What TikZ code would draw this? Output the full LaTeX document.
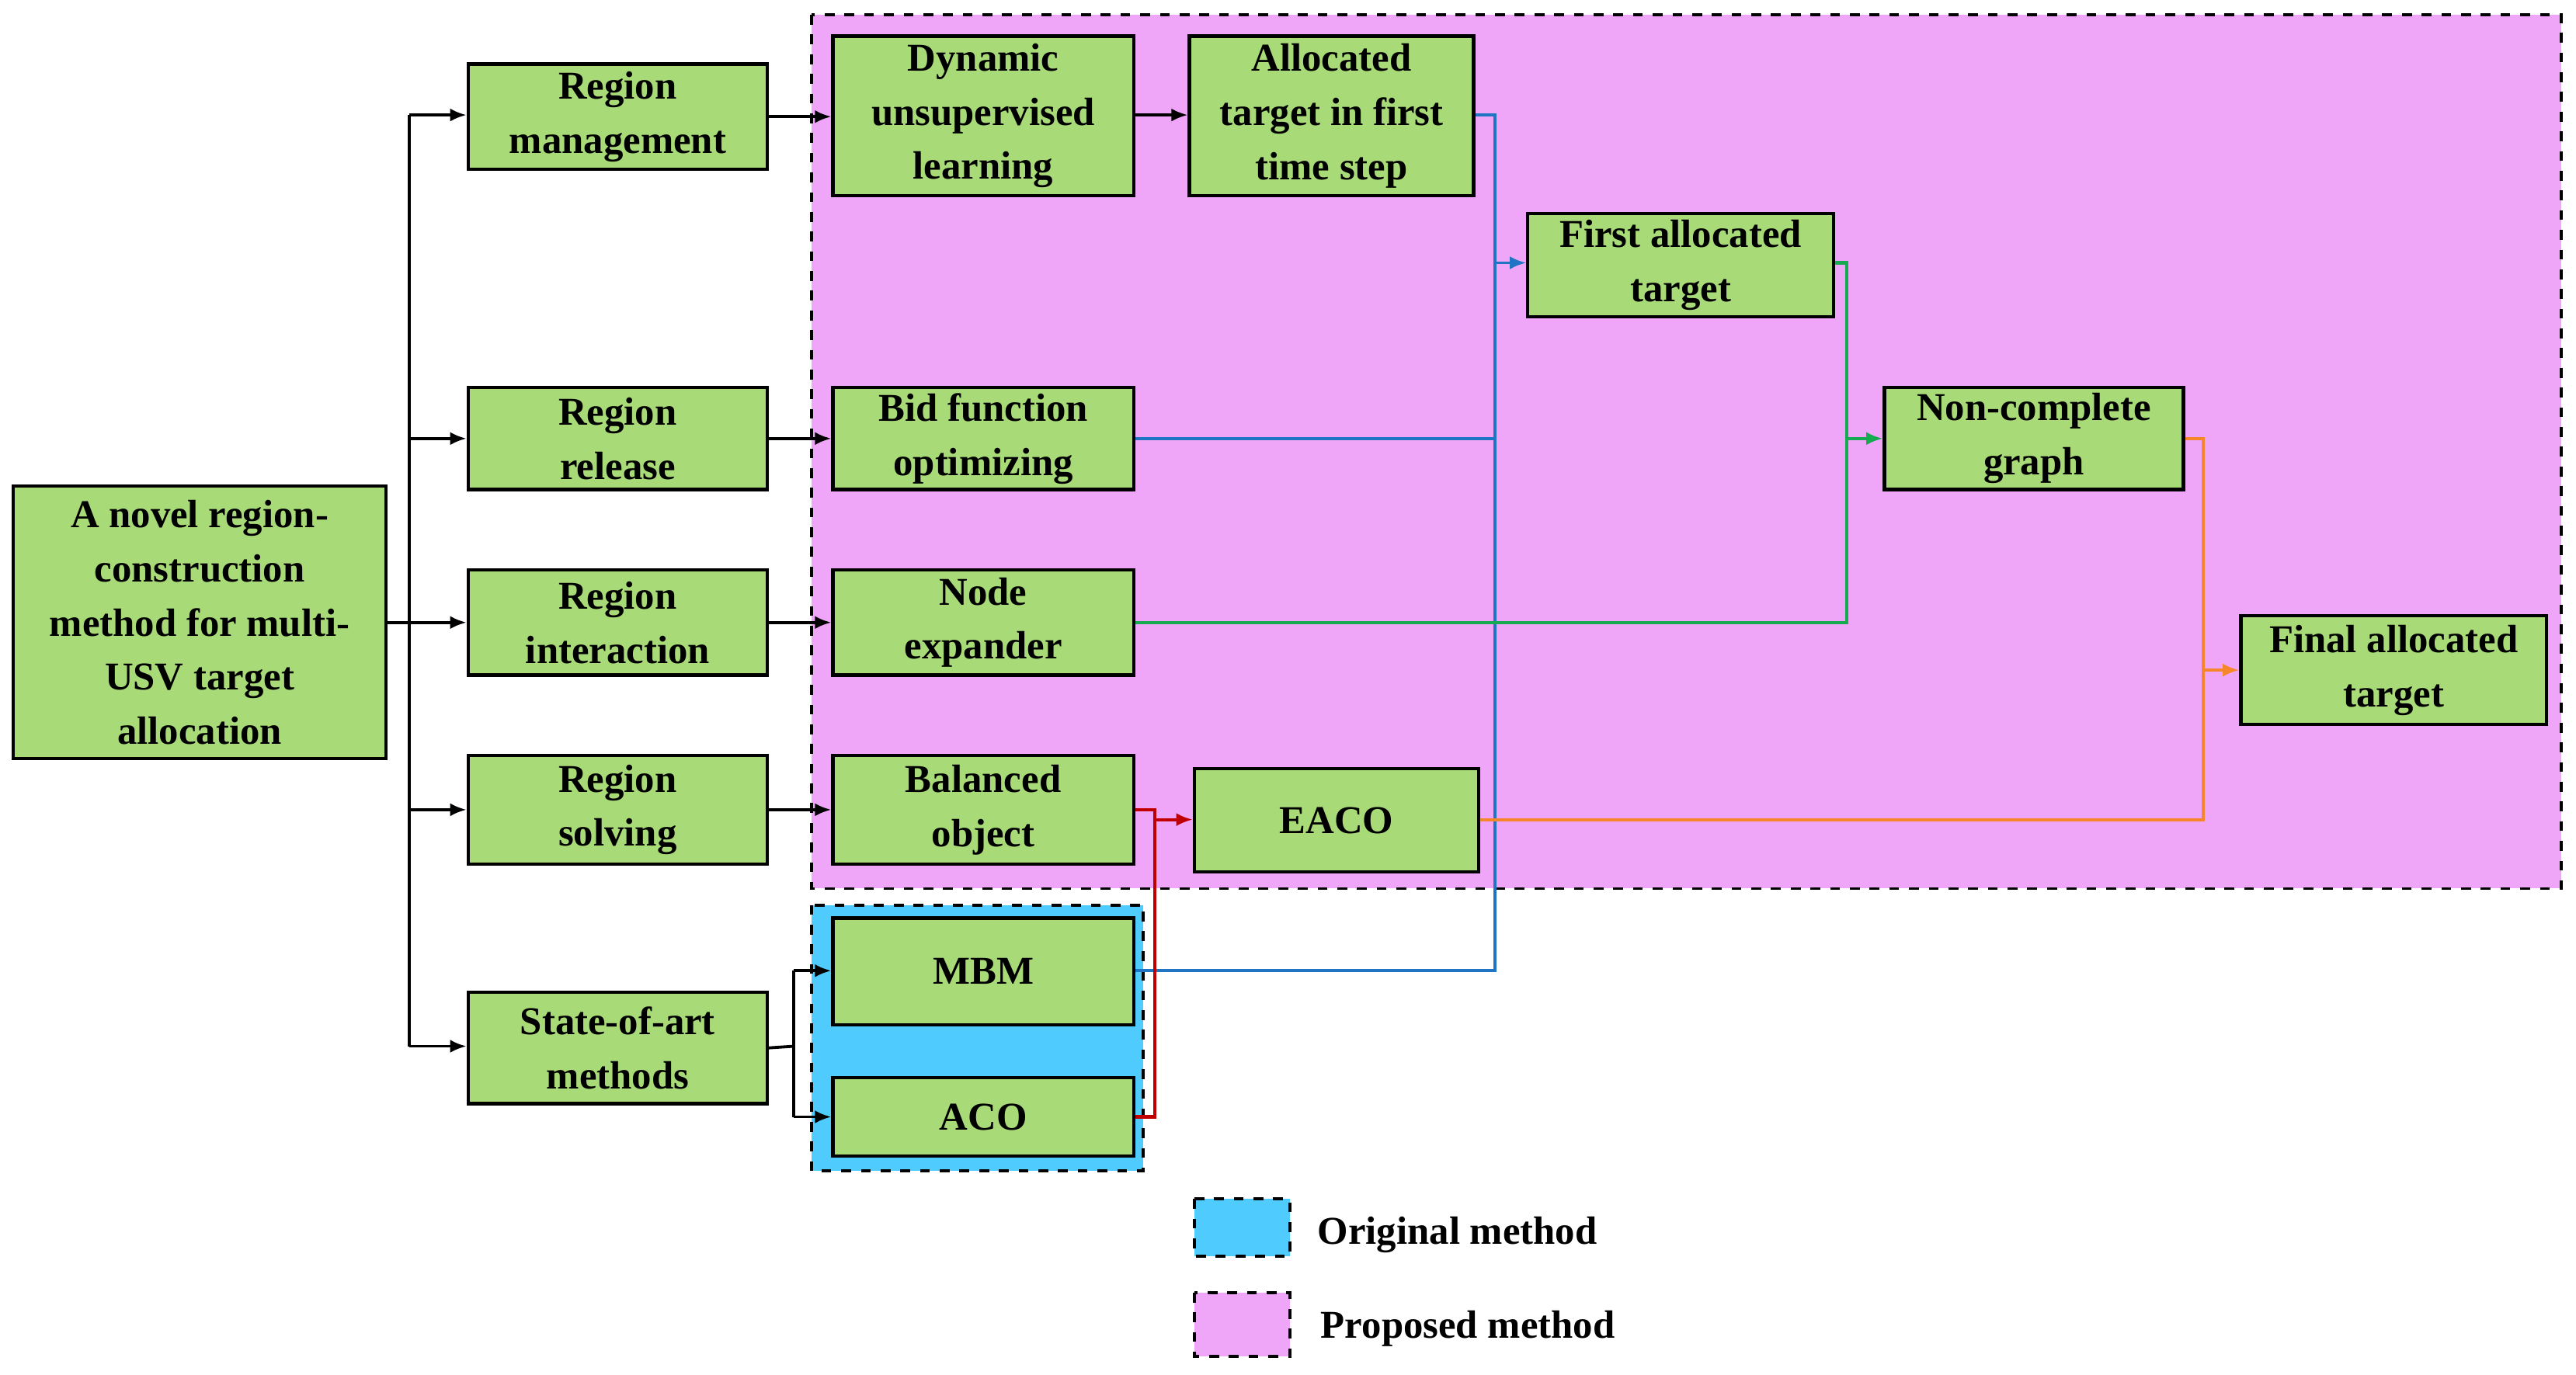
\documentclass[tikz,border=0pt]{standalone}
\usepackage{fontspec}
\setmainfont{Liberation Serif}
\usetikzlibrary{arrows.meta}
\definecolor{boxg}{HTML}{A9DA78}
\definecolor{pinkf}{HTML}{EFA6F9}
\definecolor{bluef}{HTML}{4FCBFD}
\definecolor{cb}{HTML}{1F74C4}
\definecolor{cg}{HTML}{16AA50}
\definecolor{co}{HTML}{F5872A}
\definecolor{cr}{HTML}{C00000}
\begin{document}
\begin{tikzpicture}[x=0.5pt,y=-0.5pt,
 bx/.style={draw=black,line width=1pt,fill=boxg,inner sep=0pt,align=center,font=\bfseries\fontsize{12}{16.5}\selectfont},
 ar/.style={-{Latex[length=5pt,width=4pt]},line width=0.9pt},
 reg/.style={draw=black,dashed,line width=0.9pt}]
\useasboundingbox (0,0) rectangle (1568,837);
\fill[pinkf] (494,9) rectangle (1559,541);
\draw[reg] (494,9) rectangle (1559,541);
\fill[bluef] (494,551) rectangle (696,713);
\draw[reg] (494,551) rectangle (696,713);
\newcommand{\bxat}[6]{\node[bx,minimum width={(#4-#2)*0.5pt},minimum height={(#5-#3)*0.5pt}] (#1) at ({(#2+#4)/2},{(#3+#5)/2}) {#6};}
\bxat{main}{8}{296}{235}{462}{A novel region-\\construction\\method for multi-\\USV target\\allocation}
\bxat{rm}{285}{39}{467}{103}{Region\\management}
\bxat{rr}{285}{236}{467}{298}{Region\\release}
\bxat{ri}{285}{347}{467}{411}{Region\\interaction}
\bxat{rs}{285}{460}{467}{526}{Region\\solving}
\bxat{sa}{285}{604}{467}{672}{State-of-art\\methods}
\bxat{dyn}{507}{22}{690}{119}{Dynamic\\unsupervised\\learning}
\bxat{bid}{507}{236}{690}{298}{Bid function\\optimizing}
\bxat{ne}{507}{347}{690}{411}{Node\\expander}
\bxat{bo}{507}{460}{690}{526}{Balanced\\object}
\bxat{mbm}{507}{559}{690}{624}{MBM}
\bxat{aco}{507}{656}{690}{704}{ACO}
\bxat{at}{724}{22}{897}{119}{Allocated\\target in first\\time step}
\bxat{eaco}{727}{468}{900}{531}{EACO}
\bxat{fa}{930}{130}{1116}{193}{First allocated\\target}
\bxat{nc}{1147}{236}{1329}{298}{Non-complete\\graph}
\bxat{fin}{1364}{375}{1550}{441}{Final allocated\\target}
% trunk
\coordinate (t0) at (249,70);
\coordinate (t1) at (249,637);
\draw[line width=0.9pt] (t0) -- (t1);
\draw[line width=0.9pt] (main.east) -- (249,379);
\foreach \n/\y in {rm/70,rr/267,ri/379,rs/493,sa/637}{\draw[ar] (249,\y) -- (\n.west|-0,\y);}
\draw[ar] (rm) -- (dyn.west|-rm);
\draw[ar] (rr) -- (bid);
\draw[ar] (ri) -- (ne);
\draw[ar] (rs.east) -- (bo.west|-rs.east);
\draw[ar] (dyn.east|-0,70) -- (at.west|-0,70);
\draw[line width=0.9pt] (sa.east) -- (483,637);
\draw[line width=0.9pt] (483,591) -- (483,680);
\draw[ar] (483,591) -- (mbm.west|-0,591);
\draw[ar] (483,680) -- (aco.west|-0,680);
% blue
\draw[cb,line width=1pt] (at.east|-0,70) -- (910,70) -- (910,591) -- (mbm.east|-0,591);
\draw[cb,line width=1pt] (bid.east) -- (910,267);
\draw[cb,ar] (910,160) -- (fa.west|-0,160);
% green
\draw[cg,line width=1pt] (fa.east|-0,160) -- (1124,160) -- (1124,379) -- (ne.east);
\draw[cg,ar] (1124,267) -- (nc.west);
% orange
\draw[co,line width=1pt] (nc.east) -- (1341,267) -- (1341,499) -- (eaco.east|-0,499);
\draw[co,ar] (1341,408) -- (fin.west|-0,408);
% red
\draw[cr,line width=1pt] (bo.east|-0,493) -- (703,493) -- (703,680) -- (aco.east|-0,680);
\draw[cr,ar] (703,499) -- (eaco.west|-0,499);
% legend
\fill[bluef] (727,730) rectangle (785,765);
\draw[reg] (727,730) rectangle (785,765);
\fill[pinkf] (727,787) rectangle (785,826);
\draw[reg] (727,787) rectangle (785,826);
\node[anchor=west,font=\bfseries\fontsize{12}{14}\selectfont] (l1) at (795,752) {Original method};
\node[anchor=west,font=\bfseries\fontsize{12}{14}\selectfont] (l2) at (797,809) {Proposed method};
\end{tikzpicture}
\end{document}
